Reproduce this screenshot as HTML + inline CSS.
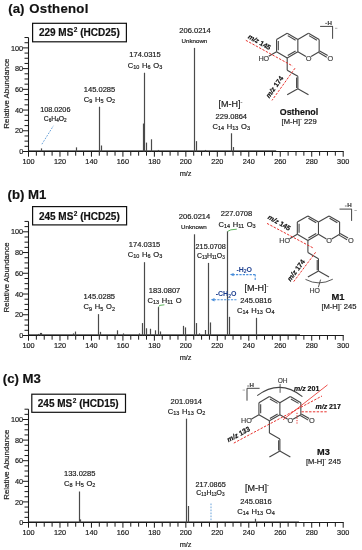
<!DOCTYPE html>
<html><head><meta charset="utf-8"><style>html,body{margin:0;padding:0;background:#fff;width:362px;height:550px;overflow:hidden}svg{display:block}</style></head><body>
<svg width="362" height="550" viewBox="0 0 362 550" font-family='"Liberation Sans", Arial, sans-serif'>
<style>text{stroke:currentColor;stroke-width:0.18px;paint-order:stroke}</style>
<rect width="362" height="550" fill="#fff"/>
<text x="8.3" y="12.6" font-size="13.2" text-anchor="start" font-weight="bold" fill="#111"  color="#111">(a)<tspan x="29.3" letter-spacing="0.27">Osthenol</tspan></text>
<rect x="32.6" y="23.3" width="93.8" height="18.5" fill="#fff" stroke="#111" stroke-width="1.2"/>
<text x="38.9" y="36.3" font-size="10" font-weight="bold" fill="#111" color="#111">229 MS<tspan font-size="6.5" dy="-4.0" dx="0.5">2</tspan><tspan dy="4.0"> </tspan>(HCD25)</text>
<line x1="28.5" y1="37.54" x2="28.5" y2="151.5" stroke="#1a1a1a" stroke-width="1.1" />
<line x1="22.7" y1="151.5" x2="28.5" y2="151.5" stroke="#1a1a1a" stroke-width="1" />
<text x="23.2" y="154.1" font-size="7.3" text-anchor="end" font-weight="normal" fill="#1a1a1a"  color="#1a1a1a">0</text>
<line x1="24.5" y1="146.32" x2="28.5" y2="146.32" stroke="#1a1a1a" stroke-width="1" />
<line x1="24.5" y1="141.14" x2="28.5" y2="141.14" stroke="#1a1a1a" stroke-width="1" />
<line x1="24.5" y1="135.96" x2="28.5" y2="135.96" stroke="#1a1a1a" stroke-width="1" />
<line x1="22.7" y1="130.78" x2="28.5" y2="130.78" stroke="#1a1a1a" stroke-width="1" />
<text x="23.2" y="133.38" font-size="7.3" text-anchor="end" font-weight="normal" fill="#1a1a1a"  color="#1a1a1a">20</text>
<line x1="24.5" y1="125.6" x2="28.5" y2="125.6" stroke="#1a1a1a" stroke-width="1" />
<line x1="24.5" y1="120.42" x2="28.5" y2="120.42" stroke="#1a1a1a" stroke-width="1" />
<line x1="24.5" y1="115.24" x2="28.5" y2="115.24" stroke="#1a1a1a" stroke-width="1" />
<line x1="22.7" y1="110.06" x2="28.5" y2="110.06" stroke="#1a1a1a" stroke-width="1" />
<text x="23.2" y="112.66" font-size="7.3" text-anchor="end" font-weight="normal" fill="#1a1a1a"  color="#1a1a1a">40</text>
<line x1="24.5" y1="104.88" x2="28.5" y2="104.88" stroke="#1a1a1a" stroke-width="1" />
<line x1="24.5" y1="99.7" x2="28.5" y2="99.7" stroke="#1a1a1a" stroke-width="1" />
<line x1="24.5" y1="94.52" x2="28.5" y2="94.52" stroke="#1a1a1a" stroke-width="1" />
<line x1="22.7" y1="89.34" x2="28.5" y2="89.34" stroke="#1a1a1a" stroke-width="1" />
<text x="23.2" y="91.94" font-size="7.3" text-anchor="end" font-weight="normal" fill="#1a1a1a"  color="#1a1a1a">60</text>
<line x1="24.5" y1="84.16" x2="28.5" y2="84.16" stroke="#1a1a1a" stroke-width="1" />
<line x1="24.5" y1="78.98" x2="28.5" y2="78.98" stroke="#1a1a1a" stroke-width="1" />
<line x1="24.5" y1="73.8" x2="28.5" y2="73.8" stroke="#1a1a1a" stroke-width="1" />
<line x1="22.7" y1="68.62" x2="28.5" y2="68.62" stroke="#1a1a1a" stroke-width="1" />
<text x="23.2" y="71.22" font-size="7.3" text-anchor="end" font-weight="normal" fill="#1a1a1a"  color="#1a1a1a">80</text>
<line x1="24.5" y1="63.44" x2="28.5" y2="63.44" stroke="#1a1a1a" stroke-width="1" />
<line x1="24.5" y1="58.26" x2="28.5" y2="58.26" stroke="#1a1a1a" stroke-width="1" />
<line x1="24.5" y1="53.08" x2="28.5" y2="53.08" stroke="#1a1a1a" stroke-width="1" />
<line x1="22.7" y1="47.9" x2="28.5" y2="47.9" stroke="#1a1a1a" stroke-width="1" />
<text x="23.2" y="50.5" font-size="7.3" text-anchor="end" font-weight="normal" fill="#1a1a1a"  color="#1a1a1a">100</text>
<line x1="24.5" y1="42.72" x2="28.5" y2="42.72" stroke="#1a1a1a" stroke-width="1" />
<line x1="24.5" y1="37.54" x2="28.5" y2="37.54" stroke="#1a1a1a" stroke-width="1" />
<line x1="27.95" y1="151.5" x2="343.7" y2="151.5" stroke="#1a1a1a" stroke-width="1.05" />
<line x1="28.5" y1="150.95" x2="276.2" y2="150.95" stroke="#1a1a1a" stroke-width="1" />
<line x1="28.5" y1="151.5" x2="28.5" y2="156.7" stroke="#1a1a1a" stroke-width="1" />
<text x="28.5" y="164.2" font-size="7.3" text-anchor="middle" font-weight="normal" fill="#1a1a1a"  color="#1a1a1a">100</text>
<line x1="36.37" y1="151.5" x2="36.37" y2="155.7" stroke="#1a1a1a" stroke-width="1" />
<line x1="44.23" y1="151.5" x2="44.23" y2="155.7" stroke="#1a1a1a" stroke-width="1" />
<line x1="52.1" y1="151.5" x2="52.1" y2="155.7" stroke="#1a1a1a" stroke-width="1" />
<line x1="59.97" y1="151.5" x2="59.97" y2="156.7" stroke="#1a1a1a" stroke-width="1" />
<text x="59.97" y="164.2" font-size="7.3" text-anchor="middle" font-weight="normal" fill="#1a1a1a"  color="#1a1a1a">120</text>
<line x1="67.84" y1="151.5" x2="67.84" y2="155.7" stroke="#1a1a1a" stroke-width="1" />
<line x1="75.7" y1="151.5" x2="75.7" y2="155.7" stroke="#1a1a1a" stroke-width="1" />
<line x1="83.57" y1="151.5" x2="83.57" y2="155.7" stroke="#1a1a1a" stroke-width="1" />
<line x1="91.44" y1="151.5" x2="91.44" y2="156.7" stroke="#1a1a1a" stroke-width="1" />
<text x="91.44" y="164.2" font-size="7.3" text-anchor="middle" font-weight="normal" fill="#1a1a1a"  color="#1a1a1a">140</text>
<line x1="99.31" y1="151.5" x2="99.31" y2="155.7" stroke="#1a1a1a" stroke-width="1" />
<line x1="107.17" y1="151.5" x2="107.17" y2="155.7" stroke="#1a1a1a" stroke-width="1" />
<line x1="115.04" y1="151.5" x2="115.04" y2="155.7" stroke="#1a1a1a" stroke-width="1" />
<line x1="122.91" y1="151.5" x2="122.91" y2="156.7" stroke="#1a1a1a" stroke-width="1" />
<text x="122.91" y="164.2" font-size="7.3" text-anchor="middle" font-weight="normal" fill="#1a1a1a"  color="#1a1a1a">160</text>
<line x1="130.78" y1="151.5" x2="130.78" y2="155.7" stroke="#1a1a1a" stroke-width="1" />
<line x1="138.64" y1="151.5" x2="138.64" y2="155.7" stroke="#1a1a1a" stroke-width="1" />
<line x1="146.51" y1="151.5" x2="146.51" y2="155.7" stroke="#1a1a1a" stroke-width="1" />
<line x1="154.38" y1="151.5" x2="154.38" y2="156.7" stroke="#1a1a1a" stroke-width="1" />
<text x="154.38" y="164.2" font-size="7.3" text-anchor="middle" font-weight="normal" fill="#1a1a1a"  color="#1a1a1a">180</text>
<line x1="162.25" y1="151.5" x2="162.25" y2="155.7" stroke="#1a1a1a" stroke-width="1" />
<line x1="170.11" y1="151.5" x2="170.11" y2="155.7" stroke="#1a1a1a" stroke-width="1" />
<line x1="177.98" y1="151.5" x2="177.98" y2="155.7" stroke="#1a1a1a" stroke-width="1" />
<line x1="185.85" y1="151.5" x2="185.85" y2="156.7" stroke="#1a1a1a" stroke-width="1" />
<text x="185.85" y="164.2" font-size="7.3" text-anchor="middle" font-weight="normal" fill="#1a1a1a"  color="#1a1a1a">200</text>
<line x1="193.72" y1="151.5" x2="193.72" y2="155.7" stroke="#1a1a1a" stroke-width="1" />
<line x1="201.58" y1="151.5" x2="201.58" y2="155.7" stroke="#1a1a1a" stroke-width="1" />
<line x1="209.45" y1="151.5" x2="209.45" y2="155.7" stroke="#1a1a1a" stroke-width="1" />
<line x1="217.32" y1="151.5" x2="217.32" y2="156.7" stroke="#1a1a1a" stroke-width="1" />
<text x="217.32" y="164.2" font-size="7.3" text-anchor="middle" font-weight="normal" fill="#1a1a1a"  color="#1a1a1a">220</text>
<line x1="225.19" y1="151.5" x2="225.19" y2="155.7" stroke="#1a1a1a" stroke-width="1" />
<line x1="233.05" y1="151.5" x2="233.05" y2="155.7" stroke="#1a1a1a" stroke-width="1" />
<line x1="240.92" y1="151.5" x2="240.92" y2="155.7" stroke="#1a1a1a" stroke-width="1" />
<line x1="248.79" y1="151.5" x2="248.79" y2="156.7" stroke="#1a1a1a" stroke-width="1" />
<text x="248.79" y="164.2" font-size="7.3" text-anchor="middle" font-weight="normal" fill="#1a1a1a"  color="#1a1a1a">240</text>
<line x1="256.66" y1="151.5" x2="256.66" y2="155.7" stroke="#1a1a1a" stroke-width="1" />
<line x1="264.52" y1="151.5" x2="264.52" y2="155.7" stroke="#1a1a1a" stroke-width="1" />
<line x1="272.39" y1="151.5" x2="272.39" y2="155.7" stroke="#1a1a1a" stroke-width="1" />
<line x1="280.26" y1="151.5" x2="280.26" y2="156.7" stroke="#1a1a1a" stroke-width="1" />
<text x="280.26" y="164.2" font-size="7.3" text-anchor="middle" font-weight="normal" fill="#1a1a1a"  color="#1a1a1a">260</text>
<line x1="288.13" y1="151.5" x2="288.13" y2="155.7" stroke="#1a1a1a" stroke-width="1" />
<line x1="296" y1="151.5" x2="296" y2="155.7" stroke="#1a1a1a" stroke-width="1" />
<line x1="303.86" y1="151.5" x2="303.86" y2="155.7" stroke="#1a1a1a" stroke-width="1" />
<line x1="311.73" y1="151.5" x2="311.73" y2="156.7" stroke="#1a1a1a" stroke-width="1" />
<text x="311.73" y="164.2" font-size="7.3" text-anchor="middle" font-weight="normal" fill="#1a1a1a"  color="#1a1a1a">280</text>
<line x1="319.6" y1="151.5" x2="319.6" y2="155.7" stroke="#1a1a1a" stroke-width="1" />
<line x1="327.46" y1="151.5" x2="327.46" y2="155.7" stroke="#1a1a1a" stroke-width="1" />
<line x1="335.33" y1="151.5" x2="335.33" y2="155.7" stroke="#1a1a1a" stroke-width="1" />
<line x1="343.2" y1="151.5" x2="343.2" y2="156.7" stroke="#1a1a1a" stroke-width="1" />
<text x="343.2" y="164.2" font-size="7.3" text-anchor="middle" font-weight="normal" fill="#1a1a1a"  color="#1a1a1a">300</text>
<text x="185.6" y="176.1" font-size="7.4" text-anchor="middle" font-weight="normal" fill="#1a1a1a"  color="#1a1a1a">m/z</text>
<text x="0" y="0" font-size="7.9" text-anchor="middle" fill="#1a1a1a" transform="translate(8.9 93.6) rotate(-90)" color="#1a1a1a">Relative Abundance</text>
<line x1="41.5" y1="151.5" x2="41.5" y2="148.39" stroke="#4a4a4a" stroke-width="1.2" />
<line x1="76.5" y1="151.5" x2="76.5" y2="147.36" stroke="#4a4a4a" stroke-width="1.2" />
<line x1="99.5" y1="151.5" x2="99.5" y2="106.74" stroke="#4a4a4a" stroke-width="1.2" />
<line x1="101.5" y1="151.5" x2="101.5" y2="145.49" stroke="#4a4a4a" stroke-width="1.2" />
<line x1="143.5" y1="151.5" x2="143.5" y2="123.53" stroke="#4a4a4a" stroke-width="1.2" />
<line x1="144.5" y1="151.5" x2="144.5" y2="72.76" stroke="#4a4a4a" stroke-width="1.2" />
<line x1="146.5" y1="151.5" x2="146.5" y2="142.59" stroke="#4a4a4a" stroke-width="1.2" />
<line x1="151.5" y1="151.5" x2="151.5" y2="139.28" stroke="#4a4a4a" stroke-width="1.2" />
<line x1="158.5" y1="151.5" x2="158.5" y2="149.95" stroke="#4a4a4a" stroke-width="1.2" />
<line x1="194.5" y1="151.5" x2="194.5" y2="47.9" stroke="#4a4a4a" stroke-width="1.2" />
<line x1="196.5" y1="151.5" x2="196.5" y2="141.14" stroke="#4a4a4a" stroke-width="1.2" />
<line x1="205.5" y1="151.5" x2="205.5" y2="149.95" stroke="#4a4a4a" stroke-width="1.2" />
<line x1="231.5" y1="151.5" x2="231.5" y2="133.27" stroke="#4a4a4a" stroke-width="1.2" />
<line x1="233.5" y1="151.5" x2="233.5" y2="147.05" stroke="#4a4a4a" stroke-width="1.2" />
<text x="55.3" y="112.4" font-size="7.25" text-anchor="middle" font-weight="normal" fill="#1a1a1a"  color="#1a1a1a">108.0206</text>
<text x="55.2" y="120.6" font-size="6.8" text-anchor="middle" font-weight="normal" fill="#1a1a1a"  color="#1a1a1a"><tspan>C</tspan><tspan font-size="4.6" dy="1.6">6</tspan><tspan dy="-1.6">H</tspan><tspan font-size="4.6" dy="1.6">4</tspan><tspan dy="-1.6">O</tspan><tspan font-size="4.6" dy="1.6">2</tspan></text>
<line x1="41.9" y1="144.2" x2="53.4" y2="125.8" stroke="#6aa3da" stroke-width="1" stroke-dasharray="1.7 1.3"/>
<text x="99.5" y="91.8" font-size="7.55" text-anchor="middle" font-weight="normal" fill="#1a1a1a"  color="#1a1a1a">145.0285</text>
<text x="99.5" y="101.9" font-size="7.55" text-anchor="middle" font-weight="normal" fill="#1a1a1a"  color="#1a1a1a"><tspan>C</tspan><tspan font-size="5.5" dy="1.1">9</tspan><tspan dy="-1.1" dx="0.6"> H</tspan><tspan font-size="5.5" dy="1.1">5</tspan><tspan dy="-1.1" dx="0.6"> O</tspan><tspan font-size="5.5" dy="1.1">2</tspan></text>
<text x="145" y="57.4" font-size="7.55" text-anchor="middle" font-weight="normal" fill="#1a1a1a"  color="#1a1a1a">174.0315</text>
<text x="145" y="67.6" font-size="7.55" text-anchor="middle" font-weight="normal" fill="#1a1a1a"  color="#1a1a1a"><tspan>C</tspan><tspan font-size="5.5" dy="1.1">10</tspan><tspan dy="-1.1" dx="0.6"> H</tspan><tspan font-size="5.5" dy="1.1">6</tspan><tspan dy="-1.1" dx="0.6"> O</tspan><tspan font-size="5.5" dy="1.1">3</tspan></text>
<text x="195" y="32.7" font-size="7.55" text-anchor="middle" font-weight="normal" fill="#1a1a1a"  color="#1a1a1a">206.0214</text>
<text x="194.4" y="43.3" font-size="6.2" text-anchor="middle" font-weight="normal" fill="#1a1a1a"  color="#1a1a1a">Unknown</text>
<text x="218.4" y="107.2" font-size="9" fill="#1a1a1a" color="#1a1a1a">[M-H]<tspan font-size="5.5" dy="-3.6">-</tspan></text>
<text x="231.3" y="118.9" font-size="7.55" text-anchor="middle" font-weight="normal" fill="#1a1a1a"  color="#1a1a1a">229.0864</text>
<text x="231.2" y="128.7" font-size="7.55" text-anchor="middle" font-weight="normal" fill="#1a1a1a"  color="#1a1a1a"><tspan>C</tspan><tspan font-size="5.5" dy="1.1">14</tspan><tspan dy="-1.1" dx="0.6"> H</tspan><tspan font-size="5.5" dy="1.1">13</tspan><tspan dy="-1.1" dx="0.6"> O</tspan><tspan font-size="5.5" dy="1.1">3</tspan></text>
<line x1="287.2" y1="33.3" x2="297.85" y2="39.45" stroke="#454545" stroke-width="1.1" />
<line x1="297.85" y1="39.45" x2="297.85" y2="51.75" stroke="#454545" stroke-width="1.1" />
<line x1="297.85" y1="51.75" x2="287.2" y2="57.9" stroke="#454545" stroke-width="1.1" />
<line x1="287.2" y1="57.9" x2="276.55" y2="51.75" stroke="#454545" stroke-width="1.1" />
<line x1="276.55" y1="51.75" x2="276.55" y2="39.45" stroke="#454545" stroke-width="1.1" />
<line x1="276.55" y1="39.45" x2="287.2" y2="33.3" stroke="#454545" stroke-width="1.1" />
<line x1="278.3" y1="41.05" x2="278.3" y2="50.15" stroke="#454545" stroke-width="1.1" />
<line x1="287.71" y1="35.62" x2="295.59" y2="40.17" stroke="#454545" stroke-width="1.1" />
<line x1="295.59" y1="51.03" x2="287.71" y2="55.58" stroke="#454545" stroke-width="1.1" />
<line x1="297.85" y1="39.45" x2="308.5" y2="33.3" stroke="#454545" stroke-width="1.1" />
<line x1="308.5" y1="33.3" x2="319.16" y2="39.45" stroke="#454545" stroke-width="1.1" />
<line x1="319.16" y1="39.45" x2="319.16" y2="51.75" stroke="#454545" stroke-width="1.1" />
<line x1="297.85" y1="51.75" x2="305.91" y2="56.4" stroke="#454545" stroke-width="1.1" />
<line x1="311.1" y1="56.4" x2="319.16" y2="51.75" stroke="#454545" stroke-width="1.1" />
<line x1="309.01" y1="35.62" x2="316.9" y2="40.17" stroke="#454545" stroke-width="1.1" />
<line x1="319.63" y1="50.93" x2="327.69" y2="55.58" stroke="#454545" stroke-width="1.1" />
<line x1="318.68" y1="52.57" x2="326.74" y2="57.22" stroke="#454545" stroke-width="1.1" />
<text x="308.5" y="60.5" font-size="7.4" text-anchor="middle" font-weight="normal" fill="#454545"  color="#454545">O</text>
<text x="330.41" y="60.5" font-size="7.4" text-anchor="middle" font-weight="normal" fill="#454545"  color="#454545">O</text>
<line x1="276.55" y1="51.75" x2="268.67" y2="56.3" stroke="#454545" stroke-width="1.1" />
<text x="269.2" y="60.5" font-size="7.2" text-anchor="end" font-weight="normal" fill="#454545"  color="#454545">HO</text>
<line x1="287.2" y1="57.9" x2="287.2" y2="70.2" stroke="#454545" stroke-width="1.1" />
<line x1="287.2" y1="70.2" x2="297.85" y2="76.35" stroke="#454545" stroke-width="1.1" />
<line x1="297.85" y1="76.35" x2="297.85" y2="88.65" stroke="#454545" stroke-width="1.1" />
<line x1="297.85" y1="88.65" x2="287.2" y2="94.8" stroke="#454545" stroke-width="1.1" />
<line x1="297.85" y1="88.65" x2="308.5" y2="94.8" stroke="#454545" stroke-width="1.1" />
<line x1="296.6" y1="77.55" x2="296.6" y2="88.05" stroke="#454545" stroke-width="1.1" />
<text x="327.5" y="24.7" font-size="6.2" text-anchor="start" font-weight="bold" fill="#454545"  color="#454545">H</text>
<line x1="325.2" y1="23.4" x2="327" y2="23.4" stroke="#454545" stroke-width="0.75" />
<line x1="320.1" y1="26.4" x2="333" y2="26.4" stroke="#454545" stroke-width="1" />
<line x1="332.6" y1="26.4" x2="332.6" y2="38.8" stroke="#454545" stroke-width="1" />
<line x1="335" y1="28.3" x2="337.4" y2="28.3" stroke="#9a9a9a" stroke-width="0.8" />
<line x1="245.8" y1="40.3" x2="292.6" y2="66" stroke="#e8332e" stroke-width="1" stroke-dasharray="2.4 1.4"/>
<text x="0" y="0" font-size="6.9" font-weight="bold" fill="#111" transform="translate(247.4 37.9) rotate(29.5)" color="#111"><tspan font-style="italic">m/z</tspan> 145</text>
<line x1="295" y1="68.2" x2="272" y2="100.4" stroke="#e8332e" stroke-width="1" stroke-dasharray="2.4 1.4"/>
<text x="0" y="0" font-size="6.9" font-weight="bold" fill="#111" transform="translate(269.2 98.5) rotate(-54.5)" color="#111"><tspan font-style="italic">m/z</tspan> 174</text>
<text x="299" y="115.2" font-size="8.9" text-anchor="middle" font-weight="bold" fill="#111"  color="#111">Osthenol</text>
<text x="281.6" y="124.3" font-size="7.6" fill="#1a1a1a" color="#1a1a1a">[M-H]<tspan font-size="5" dy="-3">-</tspan><tspan dy="3"> 229</tspan></text>
<text x="7.6" y="198.6" font-size="13.2" text-anchor="start" font-weight="bold" fill="#111"  color="#111">(b) M1</text>
<rect x="32.6" y="206.6" width="94" height="18.3" fill="#fff" stroke="#111" stroke-width="1.2"/>
<text x="38.9" y="219.5" font-size="10" font-weight="bold" fill="#111" color="#111">245 MS<tspan font-size="6.5" dy="-4.0" dx="0.5">2</tspan><tspan dy="4.0"> </tspan>(HCD25)</text>
<line x1="28.5" y1="221.43" x2="28.5" y2="335.5" stroke="#1a1a1a" stroke-width="1.1" />
<line x1="22.7" y1="335.5" x2="28.5" y2="335.5" stroke="#1a1a1a" stroke-width="1" />
<text x="23.2" y="338.1" font-size="7.3" text-anchor="end" font-weight="normal" fill="#1a1a1a"  color="#1a1a1a">0</text>
<line x1="24.5" y1="330.31" x2="28.5" y2="330.31" stroke="#1a1a1a" stroke-width="1" />
<line x1="24.5" y1="325.13" x2="28.5" y2="325.13" stroke="#1a1a1a" stroke-width="1" />
<line x1="24.5" y1="319.94" x2="28.5" y2="319.94" stroke="#1a1a1a" stroke-width="1" />
<line x1="22.7" y1="314.76" x2="28.5" y2="314.76" stroke="#1a1a1a" stroke-width="1" />
<text x="23.2" y="317.36" font-size="7.3" text-anchor="end" font-weight="normal" fill="#1a1a1a"  color="#1a1a1a">20</text>
<line x1="24.5" y1="309.57" x2="28.5" y2="309.57" stroke="#1a1a1a" stroke-width="1" />
<line x1="24.5" y1="304.39" x2="28.5" y2="304.39" stroke="#1a1a1a" stroke-width="1" />
<line x1="24.5" y1="299.2" x2="28.5" y2="299.2" stroke="#1a1a1a" stroke-width="1" />
<line x1="22.7" y1="294.02" x2="28.5" y2="294.02" stroke="#1a1a1a" stroke-width="1" />
<text x="23.2" y="296.62" font-size="7.3" text-anchor="end" font-weight="normal" fill="#1a1a1a"  color="#1a1a1a">40</text>
<line x1="24.5" y1="288.83" x2="28.5" y2="288.83" stroke="#1a1a1a" stroke-width="1" />
<line x1="24.5" y1="283.65" x2="28.5" y2="283.65" stroke="#1a1a1a" stroke-width="1" />
<line x1="24.5" y1="278.47" x2="28.5" y2="278.47" stroke="#1a1a1a" stroke-width="1" />
<line x1="22.7" y1="273.28" x2="28.5" y2="273.28" stroke="#1a1a1a" stroke-width="1" />
<text x="23.2" y="275.88" font-size="7.3" text-anchor="end" font-weight="normal" fill="#1a1a1a"  color="#1a1a1a">60</text>
<line x1="24.5" y1="268.1" x2="28.5" y2="268.1" stroke="#1a1a1a" stroke-width="1" />
<line x1="24.5" y1="262.91" x2="28.5" y2="262.91" stroke="#1a1a1a" stroke-width="1" />
<line x1="24.5" y1="257.73" x2="28.5" y2="257.73" stroke="#1a1a1a" stroke-width="1" />
<line x1="22.7" y1="252.54" x2="28.5" y2="252.54" stroke="#1a1a1a" stroke-width="1" />
<text x="23.2" y="255.14" font-size="7.3" text-anchor="end" font-weight="normal" fill="#1a1a1a"  color="#1a1a1a">80</text>
<line x1="24.5" y1="247.36" x2="28.5" y2="247.36" stroke="#1a1a1a" stroke-width="1" />
<line x1="24.5" y1="242.17" x2="28.5" y2="242.17" stroke="#1a1a1a" stroke-width="1" />
<line x1="24.5" y1="236.99" x2="28.5" y2="236.99" stroke="#1a1a1a" stroke-width="1" />
<line x1="22.7" y1="231.8" x2="28.5" y2="231.8" stroke="#1a1a1a" stroke-width="1" />
<text x="23.2" y="234.4" font-size="7.3" text-anchor="end" font-weight="normal" fill="#1a1a1a"  color="#1a1a1a">100</text>
<line x1="24.5" y1="226.62" x2="28.5" y2="226.62" stroke="#1a1a1a" stroke-width="1" />
<line x1="24.5" y1="221.43" x2="28.5" y2="221.43" stroke="#1a1a1a" stroke-width="1" />
<line x1="27.95" y1="335.5" x2="343.7" y2="335.5" stroke="#1a1a1a" stroke-width="1.05" />
<line x1="28.5" y1="334.9" x2="300" y2="334.9" stroke="#1a1a1a" stroke-width="1" />
<line x1="28.5" y1="335.5" x2="28.5" y2="340.7" stroke="#1a1a1a" stroke-width="1" />
<text x="28.5" y="348.2" font-size="7.3" text-anchor="middle" font-weight="normal" fill="#1a1a1a"  color="#1a1a1a">100</text>
<line x1="36.37" y1="335.5" x2="36.37" y2="339.7" stroke="#1a1a1a" stroke-width="1" />
<line x1="44.23" y1="335.5" x2="44.23" y2="339.7" stroke="#1a1a1a" stroke-width="1" />
<line x1="52.1" y1="335.5" x2="52.1" y2="339.7" stroke="#1a1a1a" stroke-width="1" />
<line x1="59.97" y1="335.5" x2="59.97" y2="340.7" stroke="#1a1a1a" stroke-width="1" />
<text x="59.97" y="348.2" font-size="7.3" text-anchor="middle" font-weight="normal" fill="#1a1a1a"  color="#1a1a1a">120</text>
<line x1="67.84" y1="335.5" x2="67.84" y2="339.7" stroke="#1a1a1a" stroke-width="1" />
<line x1="75.7" y1="335.5" x2="75.7" y2="339.7" stroke="#1a1a1a" stroke-width="1" />
<line x1="83.57" y1="335.5" x2="83.57" y2="339.7" stroke="#1a1a1a" stroke-width="1" />
<line x1="91.44" y1="335.5" x2="91.44" y2="340.7" stroke="#1a1a1a" stroke-width="1" />
<text x="91.44" y="348.2" font-size="7.3" text-anchor="middle" font-weight="normal" fill="#1a1a1a"  color="#1a1a1a">140</text>
<line x1="99.31" y1="335.5" x2="99.31" y2="339.7" stroke="#1a1a1a" stroke-width="1" />
<line x1="107.17" y1="335.5" x2="107.17" y2="339.7" stroke="#1a1a1a" stroke-width="1" />
<line x1="115.04" y1="335.5" x2="115.04" y2="339.7" stroke="#1a1a1a" stroke-width="1" />
<line x1="122.91" y1="335.5" x2="122.91" y2="340.7" stroke="#1a1a1a" stroke-width="1" />
<text x="122.91" y="348.2" font-size="7.3" text-anchor="middle" font-weight="normal" fill="#1a1a1a"  color="#1a1a1a">160</text>
<line x1="130.78" y1="335.5" x2="130.78" y2="339.7" stroke="#1a1a1a" stroke-width="1" />
<line x1="138.64" y1="335.5" x2="138.64" y2="339.7" stroke="#1a1a1a" stroke-width="1" />
<line x1="146.51" y1="335.5" x2="146.51" y2="339.7" stroke="#1a1a1a" stroke-width="1" />
<line x1="154.38" y1="335.5" x2="154.38" y2="340.7" stroke="#1a1a1a" stroke-width="1" />
<text x="154.38" y="348.2" font-size="7.3" text-anchor="middle" font-weight="normal" fill="#1a1a1a"  color="#1a1a1a">180</text>
<line x1="162.25" y1="335.5" x2="162.25" y2="339.7" stroke="#1a1a1a" stroke-width="1" />
<line x1="170.11" y1="335.5" x2="170.11" y2="339.7" stroke="#1a1a1a" stroke-width="1" />
<line x1="177.98" y1="335.5" x2="177.98" y2="339.7" stroke="#1a1a1a" stroke-width="1" />
<line x1="185.85" y1="335.5" x2="185.85" y2="340.7" stroke="#1a1a1a" stroke-width="1" />
<text x="185.85" y="348.2" font-size="7.3" text-anchor="middle" font-weight="normal" fill="#1a1a1a"  color="#1a1a1a">200</text>
<line x1="193.72" y1="335.5" x2="193.72" y2="339.7" stroke="#1a1a1a" stroke-width="1" />
<line x1="201.58" y1="335.5" x2="201.58" y2="339.7" stroke="#1a1a1a" stroke-width="1" />
<line x1="209.45" y1="335.5" x2="209.45" y2="339.7" stroke="#1a1a1a" stroke-width="1" />
<line x1="217.32" y1="335.5" x2="217.32" y2="340.7" stroke="#1a1a1a" stroke-width="1" />
<text x="217.32" y="348.2" font-size="7.3" text-anchor="middle" font-weight="normal" fill="#1a1a1a"  color="#1a1a1a">220</text>
<line x1="225.19" y1="335.5" x2="225.19" y2="339.7" stroke="#1a1a1a" stroke-width="1" />
<line x1="233.05" y1="335.5" x2="233.05" y2="339.7" stroke="#1a1a1a" stroke-width="1" />
<line x1="240.92" y1="335.5" x2="240.92" y2="339.7" stroke="#1a1a1a" stroke-width="1" />
<line x1="248.79" y1="335.5" x2="248.79" y2="340.7" stroke="#1a1a1a" stroke-width="1" />
<text x="248.79" y="348.2" font-size="7.3" text-anchor="middle" font-weight="normal" fill="#1a1a1a"  color="#1a1a1a">240</text>
<line x1="256.66" y1="335.5" x2="256.66" y2="339.7" stroke="#1a1a1a" stroke-width="1" />
<line x1="264.52" y1="335.5" x2="264.52" y2="339.7" stroke="#1a1a1a" stroke-width="1" />
<line x1="272.39" y1="335.5" x2="272.39" y2="339.7" stroke="#1a1a1a" stroke-width="1" />
<line x1="280.26" y1="335.5" x2="280.26" y2="340.7" stroke="#1a1a1a" stroke-width="1" />
<text x="280.26" y="348.2" font-size="7.3" text-anchor="middle" font-weight="normal" fill="#1a1a1a"  color="#1a1a1a">260</text>
<line x1="288.13" y1="335.5" x2="288.13" y2="339.7" stroke="#1a1a1a" stroke-width="1" />
<line x1="296" y1="335.5" x2="296" y2="339.7" stroke="#1a1a1a" stroke-width="1" />
<line x1="303.86" y1="335.5" x2="303.86" y2="339.7" stroke="#1a1a1a" stroke-width="1" />
<line x1="311.73" y1="335.5" x2="311.73" y2="340.7" stroke="#1a1a1a" stroke-width="1" />
<text x="311.73" y="348.2" font-size="7.3" text-anchor="middle" font-weight="normal" fill="#1a1a1a"  color="#1a1a1a">280</text>
<line x1="319.6" y1="335.5" x2="319.6" y2="339.7" stroke="#1a1a1a" stroke-width="1" />
<line x1="327.46" y1="335.5" x2="327.46" y2="339.7" stroke="#1a1a1a" stroke-width="1" />
<line x1="335.33" y1="335.5" x2="335.33" y2="339.7" stroke="#1a1a1a" stroke-width="1" />
<line x1="343.2" y1="335.5" x2="343.2" y2="340.7" stroke="#1a1a1a" stroke-width="1" />
<text x="343.2" y="348.2" font-size="7.3" text-anchor="middle" font-weight="normal" fill="#1a1a1a"  color="#1a1a1a">300</text>
<text x="185.6" y="360.1" font-size="7.4" text-anchor="middle" font-weight="normal" fill="#1a1a1a"  color="#1a1a1a">m/z</text>
<text x="0" y="0" font-size="7.9" text-anchor="middle" fill="#1a1a1a" transform="translate(8.9 277.4) rotate(-90)" color="#1a1a1a">Relative Abundance</text>
<line x1="38.5" y1="335.5" x2="38.5" y2="333.94" stroke="#4a4a4a" stroke-width="1.2" />
<line x1="40.5" y1="335.5" x2="40.5" y2="332.91" stroke="#4a4a4a" stroke-width="1.2" />
<line x1="41.5" y1="335.5" x2="41.5" y2="332.91" stroke="#4a4a4a" stroke-width="1.2" />
<line x1="73.5" y1="335.5" x2="73.5" y2="333.43" stroke="#4a4a4a" stroke-width="1.2" />
<line x1="75.5" y1="335.5" x2="75.5" y2="331.56" stroke="#4a4a4a" stroke-width="1.2" />
<line x1="98.5" y1="335.5" x2="98.5" y2="314.14" stroke="#4a4a4a" stroke-width="1.2" />
<line x1="100.5" y1="335.5" x2="100.5" y2="331.87" stroke="#4a4a4a" stroke-width="1.2" />
<line x1="117.5" y1="335.5" x2="117.5" y2="330.31" stroke="#4a4a4a" stroke-width="1.2" />
<line x1="123.5" y1="335.5" x2="123.5" y2="333.43" stroke="#4a4a4a" stroke-width="1.2" />
<line x1="139.5" y1="335.5" x2="139.5" y2="333.43" stroke="#4a4a4a" stroke-width="1.2" />
<line x1="142.5" y1="335.5" x2="142.5" y2="323.06" stroke="#4a4a4a" stroke-width="1.2" />
<line x1="144.5" y1="335.5" x2="144.5" y2="262.18" stroke="#4a4a4a" stroke-width="1.2" />
<line x1="146.5" y1="335.5" x2="146.5" y2="328.24" stroke="#4a4a4a" stroke-width="1.2" />
<line x1="150.5" y1="335.5" x2="150.5" y2="328.76" stroke="#4a4a4a" stroke-width="1.2" />
<line x1="155.5" y1="335.5" x2="155.5" y2="330.31" stroke="#4a4a4a" stroke-width="1.2" />
<line x1="158.5" y1="335.5" x2="158.5" y2="307.09" stroke="#4a4a4a" stroke-width="1.2" />
<line x1="160.5" y1="335.5" x2="160.5" y2="331.46" stroke="#4a4a4a" stroke-width="1.2" />
<line x1="183.5" y1="335.5" x2="183.5" y2="325.86" stroke="#4a4a4a" stroke-width="1.2" />
<line x1="185.5" y1="335.5" x2="185.5" y2="327.41" stroke="#4a4a4a" stroke-width="1.2" />
<line x1="194.5" y1="335.5" x2="194.5" y2="234.29" stroke="#4a4a4a" stroke-width="1.2" />
<line x1="196.5" y1="335.5" x2="196.5" y2="323.06" stroke="#4a4a4a" stroke-width="1.2" />
<line x1="199.5" y1="335.5" x2="199.5" y2="333.43" stroke="#4a4a4a" stroke-width="1.2" />
<line x1="205.5" y1="335.5" x2="205.5" y2="330" stroke="#4a4a4a" stroke-width="1.2" />
<line x1="208.5" y1="335.5" x2="208.5" y2="262.91" stroke="#4a4a4a" stroke-width="1.2" />
<line x1="210.5" y1="335.5" x2="210.5" y2="322.43" stroke="#4a4a4a" stroke-width="1.2" />
<line x1="227.5" y1="335.5" x2="227.5" y2="231.28" stroke="#4a4a4a" stroke-width="1.2" />
<line x1="229.5" y1="335.5" x2="229.5" y2="316.83" stroke="#4a4a4a" stroke-width="1.2" />
<line x1="256.5" y1="335.5" x2="256.5" y2="317.87" stroke="#4a4a4a" stroke-width="1.2" />
<text x="99.3" y="299.3" font-size="7.55" text-anchor="middle" font-weight="normal" fill="#1a1a1a"  color="#1a1a1a">145.0285</text>
<text x="99.3" y="309.4" font-size="7.55" text-anchor="middle" font-weight="normal" fill="#1a1a1a"  color="#1a1a1a"><tspan>C</tspan><tspan font-size="5.5" dy="1.1">9</tspan><tspan dy="-1.1" dx="0.6"> H</tspan><tspan font-size="5.5" dy="1.1">5</tspan><tspan dy="-1.1" dx="0.6"> O</tspan><tspan font-size="5.5" dy="1.1">2</tspan></text>
<text x="144.6" y="246.9" font-size="7.55" text-anchor="middle" font-weight="normal" fill="#1a1a1a"  color="#1a1a1a">174.0315</text>
<text x="145" y="256.8" font-size="7.55" text-anchor="middle" font-weight="normal" fill="#1a1a1a"  color="#1a1a1a"><tspan>C</tspan><tspan font-size="5.5" dy="1.1">10</tspan><tspan dy="-1.1" dx="0.6"> H</tspan><tspan font-size="5.5" dy="1.1">6</tspan><tspan dy="-1.1" dx="0.6"> O</tspan><tspan font-size="5.5" dy="1.1">3</tspan></text>
<text x="164.6" y="293.3" font-size="7.55" text-anchor="middle" font-weight="normal" fill="#1a1a1a"  color="#1a1a1a">183.0807</text>
<text x="147.6" y="302.8" font-size="7.55" text-anchor="start" font-weight="normal" fill="#1a1a1a"  color="#1a1a1a"><tspan>C</tspan><tspan font-size="5.5" dy="1.1">13</tspan><tspan dy="-1.1" dx="0.6"> H</tspan><tspan font-size="5.5" dy="1.1">11</tspan><tspan dy="-1.1" dx="0.6"> O</tspan></text>
<line x1="158.7" y1="306.8" x2="159.6" y2="305.4" stroke="#4cae4c" stroke-width="0.9" />
<line x1="159.6" y1="305.4" x2="164.4" y2="304.8" stroke="#4cae4c" stroke-width="0.9" />
<text x="194.5" y="219.3" font-size="7.55" text-anchor="middle" font-weight="normal" fill="#1a1a1a"  color="#1a1a1a">206.0214</text>
<text x="193.9" y="229.2" font-size="6.2" text-anchor="middle" font-weight="normal" fill="#1a1a1a"  color="#1a1a1a">Unknown</text>
<text x="236.5" y="216.3" font-size="7.55" text-anchor="middle" font-weight="normal" fill="#1a1a1a"  color="#1a1a1a">227.0708</text>
<text x="237.1" y="226.6" font-size="7.55" text-anchor="middle" font-weight="normal" fill="#1a1a1a"  color="#1a1a1a"><tspan>C</tspan><tspan font-size="5.5" dy="1.1">14</tspan><tspan dy="-1.1" dx="0.6"> H</tspan><tspan font-size="5.5" dy="1.1">11</tspan><tspan dy="-1.1" dx="0.6"> O</tspan><tspan font-size="5.5" dy="1.1">3</tspan></text>
<path d="M227.8 231.3 Q229.5 229.4 236.8 229.2" fill="none" stroke="#4cae4c" stroke-width="0.9"/>
<text x="210.7" y="249" font-size="7.25" text-anchor="middle" font-weight="normal" fill="#1a1a1a"  color="#1a1a1a">215.0708</text>
<text x="210.8" y="257.8" font-size="6.9" text-anchor="middle" font-weight="normal" fill="#1a1a1a"  color="#1a1a1a"><tspan>C</tspan><tspan font-size="4.6" dy="1.5">13</tspan><tspan dy="-1.5">H</tspan><tspan font-size="4.6" dy="1.5">11</tspan><tspan dy="-1.5">O</tspan><tspan font-size="4.6" dy="1.5">3</tspan></text>
<text x="236.4" y="272.2" font-size="7" font-weight="bold" fill="#1d3f8f" style="stroke-width:0" color="#1d3f8f">-H<tspan font-size="5" dy="1.2">2</tspan><tspan dy="-1.2">O</tspan></text>
<line x1="255.2" y1="279.9" x2="255.2" y2="274.6" stroke="#4a8fdc" stroke-width="1.1" stroke-dasharray="2.2 1.2"/>
<line x1="255.2" y1="274.6" x2="232.5" y2="274.6" stroke="#4a8fdc" stroke-width="1.1" stroke-dasharray="2.2 1.2"/>
<path d="M229.9 274.6 L233.6 272.9 L233.6 276.3 Z" fill="#4a8fdc"/>
<text x="215.7" y="296.4" font-size="7" font-weight="bold" fill="#1d3f8f" style="stroke-width:0" color="#1d3f8f">-CH<tspan font-size="5" dy="1.2">2</tspan><tspan dy="-1.2">O</tspan></text>
<line x1="236.5" y1="299.8" x2="213.4" y2="299.8" stroke="#4a8fdc" stroke-width="1.1" stroke-dasharray="2.2 1.2"/>
<path d="M210.8 299.8 L214.5 298.1 L214.5 301.5 Z" fill="#4a8fdc"/>
<text x="244.6" y="291.4" font-size="9" fill="#1a1a1a" color="#1a1a1a">[M-H]<tspan font-size="5.5" dy="-3.6">-</tspan></text>
<text x="256" y="303.4" font-size="7.55" text-anchor="middle" font-weight="normal" fill="#1a1a1a"  color="#1a1a1a">245.0816</text>
<text x="255.8" y="313" font-size="7.55" text-anchor="middle" font-weight="normal" fill="#1a1a1a"  color="#1a1a1a"><tspan>C</tspan><tspan font-size="5.5" dy="1.1">14</tspan><tspan dy="-1.1" dx="0.6"> H</tspan><tspan font-size="5.5" dy="1.1">13</tspan><tspan dy="-1.1" dx="0.6"> O</tspan><tspan font-size="5.5" dy="1.1">4</tspan></text>
<line x1="307.9" y1="216" x2="318.47" y2="222.1" stroke="#454545" stroke-width="1.1" />
<line x1="318.47" y1="222.1" x2="318.47" y2="234.3" stroke="#454545" stroke-width="1.1" />
<line x1="318.47" y1="234.3" x2="307.9" y2="240.4" stroke="#454545" stroke-width="1.1" />
<line x1="307.9" y1="240.4" x2="297.33" y2="234.3" stroke="#454545" stroke-width="1.1" />
<line x1="297.33" y1="234.3" x2="297.33" y2="222.1" stroke="#454545" stroke-width="1.1" />
<line x1="297.33" y1="222.1" x2="307.9" y2="216" stroke="#454545" stroke-width="1.1" />
<line x1="299.08" y1="223.7" x2="299.08" y2="232.7" stroke="#454545" stroke-width="1.1" />
<line x1="308.41" y1="218.32" x2="316.2" y2="222.82" stroke="#454545" stroke-width="1.1" />
<line x1="316.2" y1="233.58" x2="308.41" y2="238.08" stroke="#454545" stroke-width="1.1" />
<line x1="318.47" y1="222.1" x2="329.03" y2="216" stroke="#454545" stroke-width="1.1" />
<line x1="329.03" y1="216" x2="339.6" y2="222.1" stroke="#454545" stroke-width="1.1" />
<line x1="339.6" y1="222.1" x2="339.6" y2="234.3" stroke="#454545" stroke-width="1.1" />
<line x1="318.47" y1="234.3" x2="326.43" y2="238.9" stroke="#454545" stroke-width="1.1" />
<line x1="331.63" y1="238.9" x2="339.6" y2="234.3" stroke="#454545" stroke-width="1.1" />
<line x1="329.54" y1="218.32" x2="337.34" y2="222.82" stroke="#454545" stroke-width="1.1" />
<line x1="340.07" y1="233.48" x2="348.04" y2="238.08" stroke="#454545" stroke-width="1.1" />
<line x1="339.12" y1="235.12" x2="347.09" y2="239.72" stroke="#454545" stroke-width="1.1" />
<text x="329.03" y="243" font-size="7.4" text-anchor="middle" font-weight="normal" fill="#454545"  color="#454545">O</text>
<text x="350.76" y="243" font-size="7.4" text-anchor="middle" font-weight="normal" fill="#454545"  color="#454545">O</text>
<line x1="297.33" y1="234.3" x2="289.54" y2="238.8" stroke="#454545" stroke-width="1.1" />
<text x="290.07" y="243" font-size="7.2" text-anchor="end" font-weight="normal" fill="#454545"  color="#454545">HO</text>
<line x1="307.9" y1="240.4" x2="307.9" y2="252.6" stroke="#454545" stroke-width="1.1" />
<line x1="307.9" y1="252.6" x2="318.47" y2="258.7" stroke="#454545" stroke-width="1.1" />
<line x1="318.47" y1="258.7" x2="318.47" y2="270.9" stroke="#454545" stroke-width="1.1" />
<line x1="318.47" y1="270.9" x2="307.9" y2="277" stroke="#454545" stroke-width="1.1" />
<line x1="318.47" y1="270.9" x2="329.03" y2="277" stroke="#454545" stroke-width="1.1" />
<line x1="317.22" y1="259.9" x2="317.22" y2="270.3" stroke="#454545" stroke-width="1.1" />
<text x="347.2" y="207.3" font-size="6.2" text-anchor="start" font-weight="bold" fill="#454545"  color="#454545">H</text>
<line x1="344.9" y1="206" x2="346.7" y2="206" stroke="#454545" stroke-width="0.75" />
<line x1="339.5" y1="209.1" x2="351.9" y2="209.1" stroke="#454545" stroke-width="1" />
<line x1="351.6" y1="209.1" x2="351.6" y2="220.9" stroke="#454545" stroke-width="1" />
<line x1="354.4" y1="210.5" x2="356.8" y2="210.5" stroke="#9a9a9a" stroke-width="0.8" />
<line x1="267" y1="223.4" x2="314" y2="248.4" stroke="#e8332e" stroke-width="1" stroke-dasharray="2.4 1.4"/>
<text x="0" y="0" font-size="6.9" font-weight="bold" fill="#111" transform="translate(267.3 218.4) rotate(30)" color="#111"><tspan font-style="italic">m/z</tspan> 145</text>
<line x1="315.6" y1="252.3" x2="293" y2="282.6" stroke="#e8332e" stroke-width="1" stroke-dasharray="2.4 1.4"/>
<text x="0" y="0" font-size="6.9" font-weight="bold" fill="#111" transform="translate(290.4 281.8) rotate(-53.5)" color="#111"><tspan font-style="italic">m/z</tspan> 174</text>
<path d="M305.5 279.4 Q319 286.5 332.8 279.2" fill="none" stroke="#454545" stroke-width="0.9"/>
<line x1="320.6" y1="279.6" x2="318.4" y2="287.2" stroke="#454545" stroke-width="0.9" />
<text x="314.8" y="293.4" font-size="7" text-anchor="middle" font-weight="normal" fill="#454545"  color="#454545">HO</text>
<text x="338" y="299.8" font-size="9.4" text-anchor="middle" font-weight="bold" fill="#111"  color="#111">M1</text>
<text x="321.4" y="309.2" font-size="7.6" fill="#1a1a1a" color="#1a1a1a">[M-H]<tspan font-size="5" dy="-3">-</tspan><tspan dy="3"> 245</tspan></text>
<text x="2.8" y="382.8" font-size="13.2" text-anchor="start" font-weight="bold" fill="#111"  color="#111">(c) M3</text>
<rect x="31.8" y="394.2" width="93.7" height="18.1" fill="#fff" stroke="#111" stroke-width="1.2"/>
<text x="37.8" y="406.6" font-size="10" font-weight="bold" fill="#111" color="#111">245 MS<tspan font-size="6.5" dy="-4.0" dx="0.5">2</tspan><tspan dy="4.0"> </tspan>(HCD15)</text>
<line x1="28.5" y1="409.2" x2="28.5" y2="522.5" stroke="#1a1a1a" stroke-width="1.1" />
<line x1="22.7" y1="522.5" x2="28.5" y2="522.5" stroke="#1a1a1a" stroke-width="1" />
<text x="23.2" y="525.1" font-size="7.3" text-anchor="end" font-weight="normal" fill="#1a1a1a"  color="#1a1a1a">0</text>
<line x1="24.5" y1="517.35" x2="28.5" y2="517.35" stroke="#1a1a1a" stroke-width="1" />
<line x1="24.5" y1="512.2" x2="28.5" y2="512.2" stroke="#1a1a1a" stroke-width="1" />
<line x1="24.5" y1="507.05" x2="28.5" y2="507.05" stroke="#1a1a1a" stroke-width="1" />
<line x1="22.7" y1="501.9" x2="28.5" y2="501.9" stroke="#1a1a1a" stroke-width="1" />
<text x="23.2" y="504.5" font-size="7.3" text-anchor="end" font-weight="normal" fill="#1a1a1a"  color="#1a1a1a">20</text>
<line x1="24.5" y1="496.75" x2="28.5" y2="496.75" stroke="#1a1a1a" stroke-width="1" />
<line x1="24.5" y1="491.6" x2="28.5" y2="491.6" stroke="#1a1a1a" stroke-width="1" />
<line x1="24.5" y1="486.45" x2="28.5" y2="486.45" stroke="#1a1a1a" stroke-width="1" />
<line x1="22.7" y1="481.3" x2="28.5" y2="481.3" stroke="#1a1a1a" stroke-width="1" />
<text x="23.2" y="483.9" font-size="7.3" text-anchor="end" font-weight="normal" fill="#1a1a1a"  color="#1a1a1a">40</text>
<line x1="24.5" y1="476.15" x2="28.5" y2="476.15" stroke="#1a1a1a" stroke-width="1" />
<line x1="24.5" y1="471" x2="28.5" y2="471" stroke="#1a1a1a" stroke-width="1" />
<line x1="24.5" y1="465.85" x2="28.5" y2="465.85" stroke="#1a1a1a" stroke-width="1" />
<line x1="22.7" y1="460.7" x2="28.5" y2="460.7" stroke="#1a1a1a" stroke-width="1" />
<text x="23.2" y="463.3" font-size="7.3" text-anchor="end" font-weight="normal" fill="#1a1a1a"  color="#1a1a1a">60</text>
<line x1="24.5" y1="455.55" x2="28.5" y2="455.55" stroke="#1a1a1a" stroke-width="1" />
<line x1="24.5" y1="450.4" x2="28.5" y2="450.4" stroke="#1a1a1a" stroke-width="1" />
<line x1="24.5" y1="445.25" x2="28.5" y2="445.25" stroke="#1a1a1a" stroke-width="1" />
<line x1="22.7" y1="440.1" x2="28.5" y2="440.1" stroke="#1a1a1a" stroke-width="1" />
<text x="23.2" y="442.7" font-size="7.3" text-anchor="end" font-weight="normal" fill="#1a1a1a"  color="#1a1a1a">80</text>
<line x1="24.5" y1="434.95" x2="28.5" y2="434.95" stroke="#1a1a1a" stroke-width="1" />
<line x1="24.5" y1="429.8" x2="28.5" y2="429.8" stroke="#1a1a1a" stroke-width="1" />
<line x1="24.5" y1="424.65" x2="28.5" y2="424.65" stroke="#1a1a1a" stroke-width="1" />
<line x1="22.7" y1="419.5" x2="28.5" y2="419.5" stroke="#1a1a1a" stroke-width="1" />
<text x="23.2" y="422.1" font-size="7.3" text-anchor="end" font-weight="normal" fill="#1a1a1a"  color="#1a1a1a">100</text>
<line x1="24.5" y1="414.35" x2="28.5" y2="414.35" stroke="#1a1a1a" stroke-width="1" />
<line x1="24.5" y1="409.2" x2="28.5" y2="409.2" stroke="#1a1a1a" stroke-width="1" />
<line x1="27.95" y1="522.5" x2="343.7" y2="522.5" stroke="#1a1a1a" stroke-width="1.05" />
<line x1="28.5" y1="522" x2="299" y2="522" stroke="#1a1a1a" stroke-width="1" />
<line x1="28.5" y1="522.5" x2="28.5" y2="527.7" stroke="#1a1a1a" stroke-width="1" />
<text x="28.5" y="535.2" font-size="7.3" text-anchor="middle" font-weight="normal" fill="#1a1a1a"  color="#1a1a1a">100</text>
<line x1="36.37" y1="522.5" x2="36.37" y2="526.7" stroke="#1a1a1a" stroke-width="1" />
<line x1="44.23" y1="522.5" x2="44.23" y2="526.7" stroke="#1a1a1a" stroke-width="1" />
<line x1="52.1" y1="522.5" x2="52.1" y2="526.7" stroke="#1a1a1a" stroke-width="1" />
<line x1="59.97" y1="522.5" x2="59.97" y2="527.7" stroke="#1a1a1a" stroke-width="1" />
<text x="59.97" y="535.2" font-size="7.3" text-anchor="middle" font-weight="normal" fill="#1a1a1a"  color="#1a1a1a">120</text>
<line x1="67.84" y1="522.5" x2="67.84" y2="526.7" stroke="#1a1a1a" stroke-width="1" />
<line x1="75.7" y1="522.5" x2="75.7" y2="526.7" stroke="#1a1a1a" stroke-width="1" />
<line x1="83.57" y1="522.5" x2="83.57" y2="526.7" stroke="#1a1a1a" stroke-width="1" />
<line x1="91.44" y1="522.5" x2="91.44" y2="527.7" stroke="#1a1a1a" stroke-width="1" />
<text x="91.44" y="535.2" font-size="7.3" text-anchor="middle" font-weight="normal" fill="#1a1a1a"  color="#1a1a1a">140</text>
<line x1="99.31" y1="522.5" x2="99.31" y2="526.7" stroke="#1a1a1a" stroke-width="1" />
<line x1="107.17" y1="522.5" x2="107.17" y2="526.7" stroke="#1a1a1a" stroke-width="1" />
<line x1="115.04" y1="522.5" x2="115.04" y2="526.7" stroke="#1a1a1a" stroke-width="1" />
<line x1="122.91" y1="522.5" x2="122.91" y2="527.7" stroke="#1a1a1a" stroke-width="1" />
<text x="122.91" y="535.2" font-size="7.3" text-anchor="middle" font-weight="normal" fill="#1a1a1a"  color="#1a1a1a">160</text>
<line x1="130.78" y1="522.5" x2="130.78" y2="526.7" stroke="#1a1a1a" stroke-width="1" />
<line x1="138.64" y1="522.5" x2="138.64" y2="526.7" stroke="#1a1a1a" stroke-width="1" />
<line x1="146.51" y1="522.5" x2="146.51" y2="526.7" stroke="#1a1a1a" stroke-width="1" />
<line x1="154.38" y1="522.5" x2="154.38" y2="527.7" stroke="#1a1a1a" stroke-width="1" />
<text x="154.38" y="535.2" font-size="7.3" text-anchor="middle" font-weight="normal" fill="#1a1a1a"  color="#1a1a1a">180</text>
<line x1="162.25" y1="522.5" x2="162.25" y2="526.7" stroke="#1a1a1a" stroke-width="1" />
<line x1="170.11" y1="522.5" x2="170.11" y2="526.7" stroke="#1a1a1a" stroke-width="1" />
<line x1="177.98" y1="522.5" x2="177.98" y2="526.7" stroke="#1a1a1a" stroke-width="1" />
<line x1="185.85" y1="522.5" x2="185.85" y2="527.7" stroke="#1a1a1a" stroke-width="1" />
<text x="185.85" y="535.2" font-size="7.3" text-anchor="middle" font-weight="normal" fill="#1a1a1a"  color="#1a1a1a">200</text>
<line x1="193.72" y1="522.5" x2="193.72" y2="526.7" stroke="#1a1a1a" stroke-width="1" />
<line x1="201.58" y1="522.5" x2="201.58" y2="526.7" stroke="#1a1a1a" stroke-width="1" />
<line x1="209.45" y1="522.5" x2="209.45" y2="526.7" stroke="#1a1a1a" stroke-width="1" />
<line x1="217.32" y1="522.5" x2="217.32" y2="527.7" stroke="#1a1a1a" stroke-width="1" />
<text x="217.32" y="535.2" font-size="7.3" text-anchor="middle" font-weight="normal" fill="#1a1a1a"  color="#1a1a1a">220</text>
<line x1="225.19" y1="522.5" x2="225.19" y2="526.7" stroke="#1a1a1a" stroke-width="1" />
<line x1="233.05" y1="522.5" x2="233.05" y2="526.7" stroke="#1a1a1a" stroke-width="1" />
<line x1="240.92" y1="522.5" x2="240.92" y2="526.7" stroke="#1a1a1a" stroke-width="1" />
<line x1="248.79" y1="522.5" x2="248.79" y2="527.7" stroke="#1a1a1a" stroke-width="1" />
<text x="248.79" y="535.2" font-size="7.3" text-anchor="middle" font-weight="normal" fill="#1a1a1a"  color="#1a1a1a">240</text>
<line x1="256.66" y1="522.5" x2="256.66" y2="526.7" stroke="#1a1a1a" stroke-width="1" />
<line x1="264.52" y1="522.5" x2="264.52" y2="526.7" stroke="#1a1a1a" stroke-width="1" />
<line x1="272.39" y1="522.5" x2="272.39" y2="526.7" stroke="#1a1a1a" stroke-width="1" />
<line x1="280.26" y1="522.5" x2="280.26" y2="527.7" stroke="#1a1a1a" stroke-width="1" />
<text x="280.26" y="535.2" font-size="7.3" text-anchor="middle" font-weight="normal" fill="#1a1a1a"  color="#1a1a1a">260</text>
<line x1="288.13" y1="522.5" x2="288.13" y2="526.7" stroke="#1a1a1a" stroke-width="1" />
<line x1="296" y1="522.5" x2="296" y2="526.7" stroke="#1a1a1a" stroke-width="1" />
<line x1="303.86" y1="522.5" x2="303.86" y2="526.7" stroke="#1a1a1a" stroke-width="1" />
<line x1="311.73" y1="522.5" x2="311.73" y2="527.7" stroke="#1a1a1a" stroke-width="1" />
<text x="311.73" y="535.2" font-size="7.3" text-anchor="middle" font-weight="normal" fill="#1a1a1a"  color="#1a1a1a">280</text>
<line x1="319.6" y1="522.5" x2="319.6" y2="526.7" stroke="#1a1a1a" stroke-width="1" />
<line x1="327.46" y1="522.5" x2="327.46" y2="526.7" stroke="#1a1a1a" stroke-width="1" />
<line x1="335.33" y1="522.5" x2="335.33" y2="526.7" stroke="#1a1a1a" stroke-width="1" />
<line x1="343.2" y1="522.5" x2="343.2" y2="527.7" stroke="#1a1a1a" stroke-width="1" />
<text x="343.2" y="535.2" font-size="7.3" text-anchor="middle" font-weight="normal" fill="#1a1a1a"  color="#1a1a1a">300</text>
<text x="185.6" y="547.1" font-size="7.4" text-anchor="middle" font-weight="normal" fill="#1a1a1a"  color="#1a1a1a">m/z</text>
<text x="0" y="0" font-size="7.9" text-anchor="middle" fill="#1a1a1a" transform="translate(8.9 464.7) rotate(-90)" color="#1a1a1a">Relative Abundance</text>
<line x1="79.5" y1="522.5" x2="79.5" y2="491.5" stroke="#4a4a4a" stroke-width="1.2" />
<line x1="80.5" y1="522.5" x2="80.5" y2="519.41" stroke="#4a4a4a" stroke-width="1.2" />
<line x1="186.5" y1="522.5" x2="186.5" y2="418.68" stroke="#4a4a4a" stroke-width="1.2" />
<line x1="188.5" y1="522.5" x2="188.5" y2="506.02" stroke="#4a4a4a" stroke-width="1.2" />
<line x1="255.5" y1="522.5" x2="255.5" y2="518.79" stroke="#4a4a4a" stroke-width="1.2" />
<text x="79.7" y="476" font-size="7.55" text-anchor="middle" font-weight="normal" fill="#1a1a1a"  color="#1a1a1a">133.0285</text>
<text x="79.7" y="486.3" font-size="7.55" text-anchor="middle" font-weight="normal" fill="#1a1a1a"  color="#1a1a1a"><tspan>C</tspan><tspan font-size="5.5" dy="1.1">8</tspan><tspan dy="-1.1" dx="0.6"> H</tspan><tspan font-size="5.5" dy="1.1">5</tspan><tspan dy="-1.1" dx="0.6"> O</tspan><tspan font-size="5.5" dy="1.1">2</tspan></text>
<text x="186.3" y="404.1" font-size="7.55" text-anchor="middle" font-weight="normal" fill="#1a1a1a"  color="#1a1a1a">201.0914</text>
<text x="186.6" y="414.3" font-size="7.55" text-anchor="middle" font-weight="normal" fill="#1a1a1a"  color="#1a1a1a"><tspan>C</tspan><tspan font-size="5.5" dy="1.1">13</tspan><tspan dy="-1.1" dx="0.6"> H</tspan><tspan font-size="5.5" dy="1.1">13</tspan><tspan dy="-1.1" dx="0.6"> O</tspan><tspan font-size="5.5" dy="1.1">2</tspan></text>
<text x="210.6" y="486.9" font-size="7.25" text-anchor="middle" font-weight="normal" fill="#1a1a1a"  color="#1a1a1a">217.0865</text>
<text x="210.4" y="494.8" font-size="6.9" text-anchor="middle" font-weight="normal" fill="#1a1a1a"  color="#1a1a1a"><tspan>C</tspan><tspan font-size="4.6" dy="1.5">13</tspan><tspan dy="-1.5">H</tspan><tspan font-size="4.6" dy="1.5">13</tspan><tspan dy="-1.5">O</tspan><tspan font-size="4.6" dy="1.5">3</tspan></text>
<line x1="211" y1="503.5" x2="211" y2="521" stroke="#6aa3da" stroke-width="1" stroke-dasharray="1.7 1.3"/>
<text x="245.0" y="490.8" font-size="9" fill="#1a1a1a" color="#1a1a1a">[M-H]<tspan font-size="5.5" dy="-3.6">-</tspan></text>
<text x="256" y="503.8" font-size="7.55" text-anchor="middle" font-weight="normal" fill="#1a1a1a"  color="#1a1a1a">245.0816</text>
<text x="256" y="513.6" font-size="7.55" text-anchor="middle" font-weight="normal" fill="#1a1a1a"  color="#1a1a1a"><tspan>C</tspan><tspan font-size="5.5" dy="1.1">14</tspan><tspan dy="-1.1" dx="0.6"> H</tspan><tspan font-size="5.5" dy="1.1">13</tspan><tspan dy="-1.1" dx="0.6"> O</tspan><tspan font-size="5.5" dy="1.1">4</tspan></text>
<line x1="269.4" y1="396.6" x2="279.88" y2="402.65" stroke="#454545" stroke-width="1.1" />
<line x1="279.88" y1="402.65" x2="279.88" y2="414.75" stroke="#454545" stroke-width="1.1" />
<line x1="279.88" y1="414.75" x2="269.4" y2="420.8" stroke="#454545" stroke-width="1.1" />
<line x1="269.4" y1="420.8" x2="258.92" y2="414.75" stroke="#454545" stroke-width="1.1" />
<line x1="258.92" y1="414.75" x2="258.92" y2="402.65" stroke="#454545" stroke-width="1.1" />
<line x1="258.92" y1="402.65" x2="269.4" y2="396.6" stroke="#454545" stroke-width="1.1" />
<line x1="260.67" y1="404.25" x2="260.67" y2="413.15" stroke="#454545" stroke-width="1.1" />
<line x1="269.91" y1="398.92" x2="277.62" y2="403.37" stroke="#454545" stroke-width="1.1" />
<line x1="277.62" y1="414.03" x2="269.91" y2="418.48" stroke="#454545" stroke-width="1.1" />
<line x1="279.88" y1="402.65" x2="290.36" y2="396.6" stroke="#454545" stroke-width="1.1" />
<line x1="290.36" y1="396.6" x2="300.84" y2="402.65" stroke="#454545" stroke-width="1.1" />
<line x1="300.84" y1="402.65" x2="300.84" y2="414.75" stroke="#454545" stroke-width="1.1" />
<line x1="279.88" y1="414.75" x2="287.76" y2="419.3" stroke="#454545" stroke-width="1.1" />
<line x1="292.96" y1="419.3" x2="300.84" y2="414.75" stroke="#454545" stroke-width="1.1" />
<line x1="290.87" y1="398.92" x2="298.58" y2="403.37" stroke="#454545" stroke-width="1.1" />
<line x1="301.31" y1="413.93" x2="309.19" y2="418.48" stroke="#454545" stroke-width="1.1" />
<line x1="300.36" y1="415.57" x2="308.24" y2="420.12" stroke="#454545" stroke-width="1.1" />
<text x="290.36" y="423.4" font-size="7.4" text-anchor="middle" font-weight="normal" fill="#454545"  color="#454545">O</text>
<text x="311.92" y="423.4" font-size="7.4" text-anchor="middle" font-weight="normal" fill="#454545"  color="#454545">O</text>
<line x1="258.92" y1="414.75" x2="251.21" y2="419.2" stroke="#454545" stroke-width="1.1" />
<text x="251.74" y="423.4" font-size="7.2" text-anchor="end" font-weight="normal" fill="#454545"  color="#454545">HO</text>
<line x1="269.4" y1="420.8" x2="269.4" y2="432.9" stroke="#454545" stroke-width="1.1" />
<line x1="269.4" y1="432.9" x2="279.88" y2="438.95" stroke="#454545" stroke-width="1.1" />
<line x1="279.88" y1="438.95" x2="279.88" y2="451.05" stroke="#454545" stroke-width="1.1" />
<line x1="279.88" y1="451.05" x2="269.4" y2="457.1" stroke="#454545" stroke-width="1.1" />
<line x1="279.88" y1="451.05" x2="290.36" y2="457.1" stroke="#454545" stroke-width="1.1" />
<line x1="278.63" y1="440.15" x2="278.63" y2="450.45" stroke="#454545" stroke-width="1.1" />
<text x="249.5" y="387.3" font-size="6.2" text-anchor="start" font-weight="bold" fill="#454545"  color="#454545">H</text>
<line x1="247.2" y1="386" x2="249" y2="386" stroke="#454545" stroke-width="0.75" />
<line x1="247" y1="388.3" x2="259.6" y2="388.3" stroke="#454545" stroke-width="1" />
<line x1="247" y1="388.3" x2="247" y2="400.7" stroke="#454545" stroke-width="1" />
<line x1="242.6" y1="390.1" x2="245" y2="390.1" stroke="#9a9a9a" stroke-width="0.8" />
<path d="M257.2 395.6 Q280.0 378.6 302.4 396.6" fill="none" stroke="#454545" stroke-width="1.1"/>
<line x1="280.1" y1="384" x2="280.1" y2="392.8" stroke="#454545" stroke-width="0.9" />
<text x="282.6" y="383.2" font-size="6.6" text-anchor="middle" font-weight="normal" fill="#454545"  color="#454545">OH</text>
<line x1="327.5" y1="384.9" x2="283" y2="419.8" stroke="#e8332e" stroke-width="0.85" />
<line x1="233.8" y1="443.1" x2="322" y2="396" stroke="#e8332e" stroke-width="1" stroke-dasharray="2.4 1.4"/>
<line x1="301.5" y1="411.8" x2="328" y2="411.8" stroke="#e8332e" stroke-width="1" stroke-dasharray="2.4 1.4"/>
<line x1="297" y1="412.8" x2="297" y2="424.7" stroke="#e8332e" stroke-width="1" stroke-dasharray="1.2 1.2"/>
<text x="294.0" y="391.4" font-size="7" font-weight="bold" fill="#111" color="#111"><tspan font-style="italic">m/z</tspan> 201</text>
<text x="315.5" y="409.4" font-size="7" font-weight="bold" fill="#111" color="#111"><tspan font-style="italic">m/z</tspan> 217</text>
<text x="0" y="0" font-size="6.9" font-weight="bold" fill="#111" transform="translate(228.6 442.2) rotate(-28)" color="#111"><tspan font-style="italic">m/z</tspan> 133</text>
<text x="323.5" y="454.9" font-size="9.2" text-anchor="middle" font-weight="bold" fill="#111"  color="#111">M3</text>
<text x="305.9" y="464.0" font-size="7.6" fill="#1a1a1a" color="#1a1a1a">[M-H]<tspan font-size="5" dy="-3">-</tspan><tspan dy="3"> 245</tspan></text>
</svg>
</body></html>
